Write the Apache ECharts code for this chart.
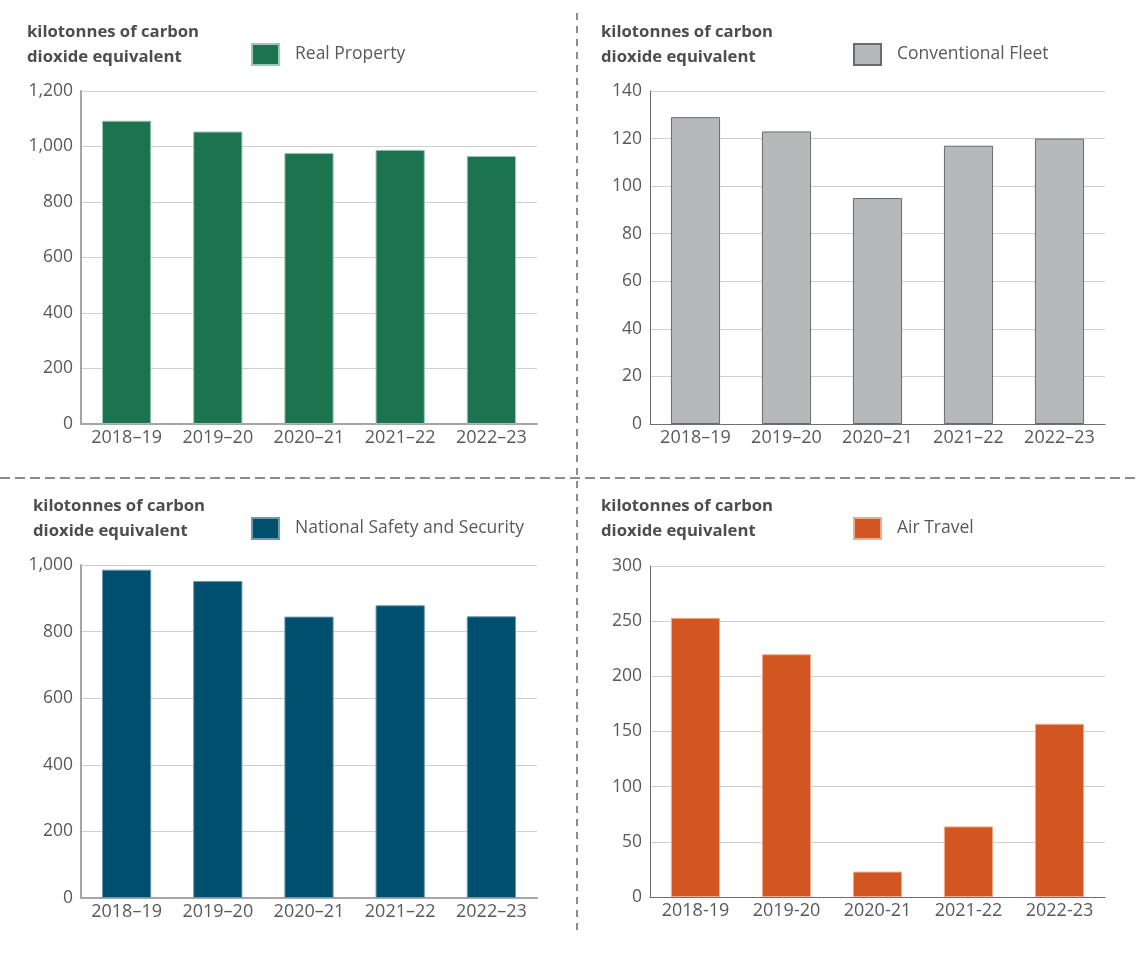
<!DOCTYPE html>
<html>
<head>
<meta charset="utf-8">
<script src="https://cdn.jsdelivr.net/npm/echarts@6/dist/echarts.min.js"></script>
<style>
html,body{margin:0;padding:0;background:#fff;}
#c{width:1140px;height:955px;}
</style>
</head>
<body>
<div id="c"></div>
<script>
// ---- data ----
var yearsDash = ['2018\u201319', '2019\u201320', '2020\u201321', '2021\u201322', '2022\u201323'];
var yearsHyphen = ['2018-19', '2019-20', '2020-21', '2021-22', '2022-23'];
var realProperty = [1093, 1054, 977, 988, 966];
var conventionalFleet = [129, 123, 95, 117, 120];
var nationalSafety = [986, 952, 845, 879, 846];
var airTravel = [253, 220, 23, 64, 157];
var seriesNames = ['Real Property', 'Conventional Fleet', 'National Safety and Security', 'Air Travel'];
var yTitle = 'kilotonnes of carbon\ndioxide equivalent';

var FONT = '"Open Sans", "Liberation Sans", sans-serif';
var TXT = '#595959';

var panels = [
  {name: seriesNames[0], cats: yearsDash, data: realProperty, max: 1200, interval: 200,
   grid: {left: 81, top: 91, width: 456, height: 333}, color: '#1b7350', border: '#9cc7b3',
   axisColor: '#a6a6a6', axisWidth: 2, titleX: 27, titleY: 20, legX: 251, legY: 43},
  {name: seriesNames[1], cats: yearsDash, data: conventionalFleet, max: 140, interval: 20,
   grid: {left: 650, top: 91, width: 455, height: 333}, color: '#b7b8ba', border: '#6b6b6b',
   axisColor: '#6f6f6f', axisWidth: 1, titleX: 601, titleY: 20, legX: 853, legY: 43},
  {name: seriesNames[2], cats: yearsDash, data: nationalSafety, max: 1000, interval: 200,
   grid: {left: 81, top: 565, width: 456, height: 333}, color: '#004f6e', border: '#6f98ad',
   axisColor: '#a6a6a6', axisWidth: 2, titleX: 33, titleY: 494, legX: 251, legY: 517},
  {name: seriesNames[3], cats: yearsHyphen, data: airTravel, max: 300, interval: 50,
   grid: {left: 650, top: 566, width: 455, height: 331}, color: '#d25622', border: '#f2a98a',
   axisColor: '#6f6f6f', axisWidth: 1, titleX: 601, titleY: 494, legX: 853, legY: 517}
];

var option = {
  animation: false,
  backgroundColor: '#ffffff',
  title: [], legend: [], grid: [], xAxis: [], yAxis: [], series: [],
  graphic: [
    {type: 'line', silent: true, shape: {x1: 577, y1: 13, x2: 577, y2: 930},
     style: {stroke: '#8c8c8c', lineWidth: 2, lineDash: [7, 6]}},
    {type: 'line', silent: true, shape: {x1: 0, y1: 478, x2: 1138, y2: 478},
     style: {stroke: '#8c8c8c', lineWidth: 2, lineDash: [10, 5]}}
  ]
};

panels.forEach(function (p, i) {
  option.title.push({
    text: yTitle, left: p.titleX, top: p.titleY, padding: 0,
    textStyle: {fontFamily: FONT, fontSize: 16.7, fontWeight: 'bold', color: '#4d4d4d', lineHeight: 25}
  });
  option.legend.push({
    data: [{name: p.name, icon: 'rect'}], left: p.legX, top: p.legY, itemWidth: 27, itemHeight: 21,
    padding: 0, selectedMode: false,
    textStyle: {fontFamily: FONT, fontSize: 17.5, color: TXT, padding: [0, 0, 0, 11]}
  });
  option.grid.push(Object.assign({containLabel: false}, p.grid));
  option.xAxis.push({
    type: 'category', gridIndex: i, data: p.cats,
    axisLine: {lineStyle: {color: p.axisColor, width: p.axisWidth}},
    axisTick: {show: false},
    axisLabel: {fontFamily: FONT, fontSize: 18, color: TXT, margin: 5, interval: 0}
  });
  option.yAxis.push({
    type: 'value', gridIndex: i, min: 0, max: p.max, interval: p.interval,
    axisLine: {show: true, lineStyle: {color: p.axisColor, width: p.axisWidth}},
    axisTick: {show: false},
    splitLine: {lineStyle: {color: '#d0d0d0', width: 1}},
    axisLabel: {fontFamily: FONT, fontSize: 17.5, color: TXT, margin: 8, padding: [5, 0, 0, 0],
      formatter: function (v) { return v.toLocaleString('en-US'); }}
  });
  option.series.push({
    type: 'bar', name: p.name, xAxisIndex: i, yAxisIndex: i, data: p.data,
    barWidth: '54%',
    itemStyle: {color: p.color, borderColor: p.border, borderWidth: 1}
  });
});

var chart = echarts.init(document.getElementById('c'), null, {renderer: 'canvas'});
chart.setOption(option);
</script>
</body>
</html>
